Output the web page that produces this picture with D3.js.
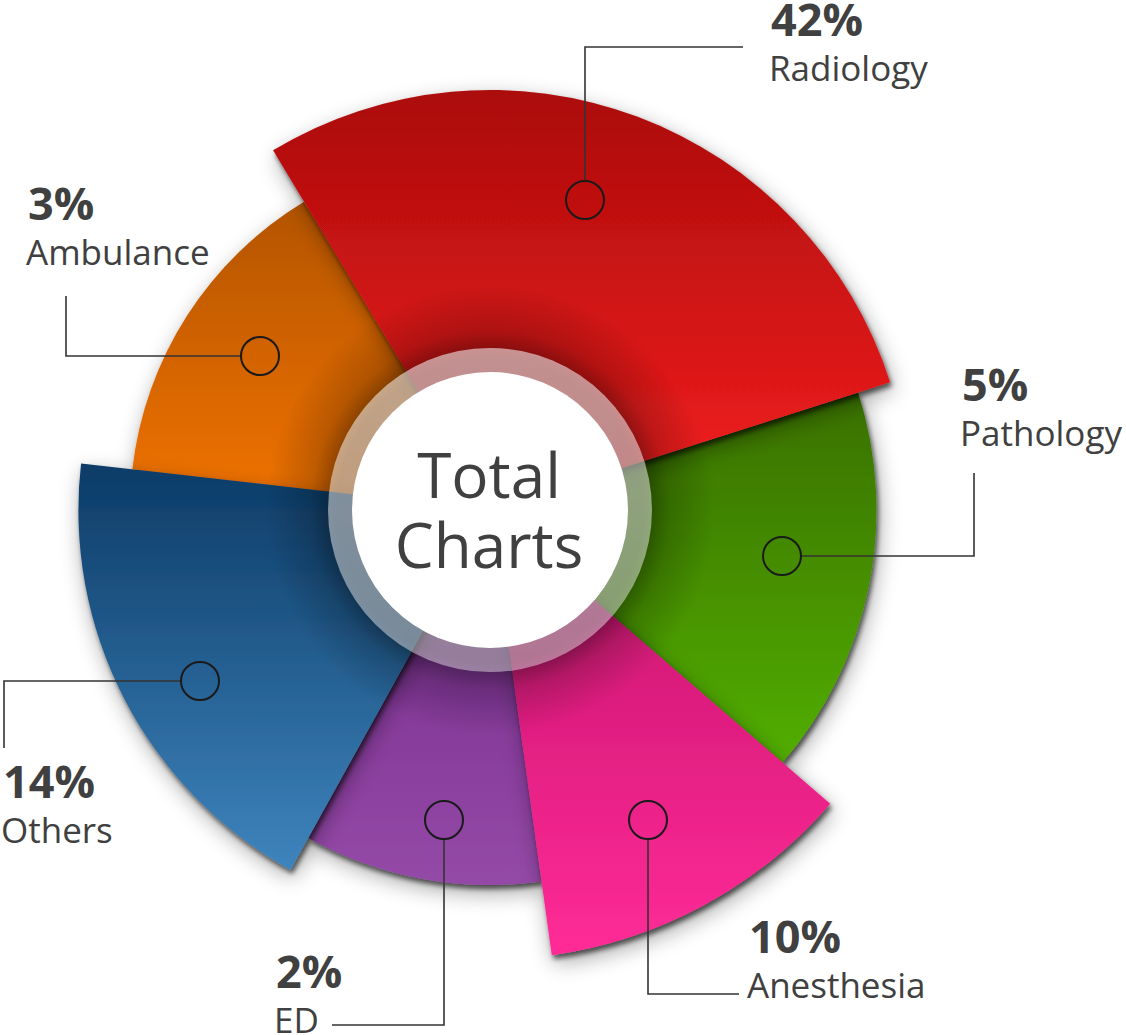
<!DOCTYPE html>
<html>
<head>
<meta charset="utf-8">
<script src="https://cdn.jsdelivr.net/npm/d3@7/dist/d3.min.js"></script>
<style>
  body { margin: 0; background: #fff; }
  text { font-family: "Open Sans", sans-serif; fill: #404040; }
</style>
</head>
<body>
<svg id="chart" width="1126" height="1035"></svg>
<script>
// ---- //
// Data //
// ---- //

// departments, clockwise from the big red wedge
const departments = ["Radiology", "Pathology", "Anesthesia", "ED", "Others", "Ambulance"];
// printed shares
const shares = [42, 5, 10, 2, 14, 3];
// angular sweep of each wedge as drawn (degrees)
const sweeps = [103.4, 58.5, 41.3, 36.9, 67.5, 52.4];
// relative reach of each wedge (1 = red wedge)
const reach = [1.0, 0.92, 1.07, 0.893, 0.98, 0.857];

// ------ //
// Styles //
// ------ //

// top / bottom colour of each wedge gradient
const palette = [
  ["#ab0b0b", "#f51f1f"],
  ["#397000", "#52ae00"],
  ["#c4136c", "#ff2b97"],
  ["#74298a", "#9449a7"],
  ["#0c3b66", "#3e84bd"],
  ["#b35400", "#f27302"]
];

// callout layout: dot, elbow, end of leader, text anchor
const callouts = [
  { dot: [585, 200], elbow: [585, 47], end: [743, 47], text: [771, 36] },
  { dot: [782, 556], elbow: [974, 556], end: [974, 473], text: [962, 401] },
  { dot: [648, 820], elbow: [648, 994], end: [739, 994], text: [749, 953] },
  { dot: [444, 820], elbow: [444, 1025], end: [332, 1025], text: [276, 988] },
  { dot: [200, 681], elbow: [4, 681], end: [4, 748], text: [3, 798] },
  { dot: [260, 356], elbow: [66, 356], end: [66, 296], text: [28, 220] }
];

const cx = 490, cy = 510;
const dotR = 19;

// ------ //
// Layout //
// ------ //

const rows = departments.map((name, i) => ({
  name, share: shares[i], sweep: sweeps[i], reach: reach[i], i
}));

const start = -31.1 * Math.PI / 180;
const pie = d3.pie()
  .sort(null)
  .value(d => d.sweep)
  .startAngle(start)
  .endAngle(start + 2 * Math.PI);

const radius = d3.scaleLinear().domain([0, 1]).range([0, 420]);

const arc = d3.arc()
  .innerRadius(0)
  .outerRadius(d => radius(d.data.reach));

const arcs = pie(rows);

// --------- //
// Rendering //
// --------- //

const svg = d3.select("#chart");
const defs = svg.append("defs");

// wedge gradients (vertical)
palette.forEach((c, i) => {
  const g = defs.append("linearGradient")
    .attr("id", "wedge" + i)
    .attr("x1", 0).attr("y1", 0).attr("x2", 0).attr("y2", 1);
  g.append("stop").attr("offset", "0%").attr("stop-color", c[0]);
  g.append("stop").attr("offset", "100%").attr("stop-color", c[1]);
});

// shadow: tight + soft
const f = defs.append("filter")
  .attr("id", "lift")
  .attr("x", "-30%").attr("y", "-30%")
  .attr("width", "160%").attr("height", "160%");
f.append("feGaussianBlur").attr("in", "SourceAlpha").attr("stdDeviation", 2.5).attr("result", "b1");
f.append("feOffset").attr("in", "b1").attr("dx", 2).attr("dy", 4).attr("result", "o1");
f.append("feComponentTransfer").attr("in", "o1").attr("result", "s1")
  .append("feFuncA").attr("type", "linear").attr("slope", 0.6);
f.append("feGaussianBlur").attr("in", "SourceAlpha").attr("stdDeviation", 11).attr("result", "b2");
f.append("feOffset").attr("in", "b2").attr("dx", 3).attr("dy", 8).attr("result", "o2");
f.append("feComponentTransfer").attr("in", "o2").attr("result", "s2")
  .append("feFuncA").attr("type", "linear").attr("slope", 0.35);
const merge = f.append("feMerge");
merge.append("feMergeNode").attr("in", "s2");
merge.append("feMergeNode").attr("in", "s1");
merge.append("feMergeNode").attr("in", "SourceGraphic");

// dark halo round the hub
const halo = defs.append("radialGradient")
  .attr("id", "halo")
  .attr("gradientUnits", "userSpaceOnUse")
  .attr("cx", 0).attr("cy", 0).attr("r", 225);
halo.append("stop").attr("offset", 0.68).attr("stop-color", "#000").attr("stop-opacity", 0.45);
halo.append("stop").attr("offset", 0.8).attr("stop-color", "#000").attr("stop-opacity", 0.18);
halo.append("stop").attr("offset", 1).attr("stop-color", "#000").attr("stop-opacity", 0);

const ringGrad = defs.append("linearGradient")
  .attr("id", "ring")
  .attr("x1", 0).attr("y1", 0).attr("x2", 0).attr("y2", 1);
ringGrad.append("stop").attr("offset", "0%").attr("stop-color", "#fff").attr("stop-opacity", 0.55);
ringGrad.append("stop").attr("offset", "100%").attr("stop-color", "#fff").attr("stop-opacity", 0.42);

const chart = svg.append("g").attr("transform", `translate(${cx},${cy})`);

// wedges, shorter ones underneath
chart.append("g")
  .selectAll("path")
  .data(arcs.slice().sort((a, b) => a.data.reach - b.data.reach))
  .join("path")
  .attr("d", arc)
  .attr("fill", d => `url(#wedge${d.data.i})`)
  .attr("filter", "url(#lift)");

// hub
chart.append("circle").attr("r", 225).attr("fill", "url(#halo)");
chart.append("circle").attr("r", 162).attr("fill", "url(#ring)");
chart.append("circle").attr("r", 138).attr("fill", "#fff");

chart.append("text")
  .attr("text-anchor", "middle")
  .style("font-size", "62px")
  .selectAll("tspan")
  .data(["Total", "Charts"])
  .join("tspan")
  .attr("x", -1)
  .attr("y", (d, i) => -12 + i * 70)
  .text(d => d);

// callouts
const notes = svg.append("g")
  .selectAll("g")
  .data(rows)
  .join("g");

notes.append("path")
  .attr("fill", "none")
  .attr("stroke", "#333")
  .attr("stroke-width", 1.6)
  .attr("d", d => {
    const c = callouts[d.i];
    const [x0, y0] = c.dot;
    const [ex, ey] = c.elbow;
    // leave the ring of the dot empty
    const dx = Math.sign(ex - x0), dy = Math.sign(ey - y0);
    const p = d3.path();
    p.moveTo(x0 + dx * dotR, y0 + dy * dotR);
    p.lineTo(ex, ey);
    p.lineTo(c.end[0], c.end[1]);
    return p.toString();
  });

notes.append("circle")
  .attr("cx", d => callouts[d.i].dot[0])
  .attr("cy", d => callouts[d.i].dot[1])
  .attr("r", dotR)
  .attr("fill", "none")
  .attr("stroke", "#1a1a1a")
  .attr("stroke-width", 2);

notes.append("text")
  .attr("x", d => callouts[d.i].text[0])
  .attr("y", d => callouts[d.i].text[1])
  .style("font-size", "45px")
  .style("font-weight", 700)
  .text(d => d.share + "%");

notes.append("text")
  .attr("x", d => callouts[d.i].text[0] - 2)
  .attr("y", d => callouts[d.i].text[1] + 45)
  .style("font-size", "35px")
  .text(d => d.name);
</script>
</body>
</html>
